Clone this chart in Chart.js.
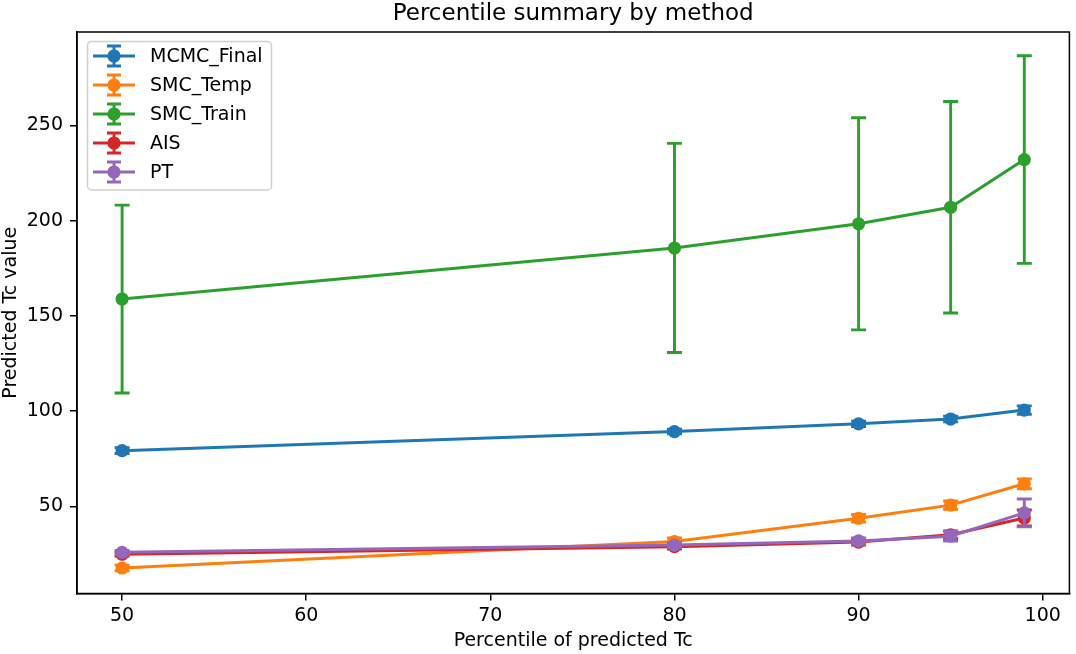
<!DOCTYPE html>
<html>
<head>
<meta charset="utf-8">
<script src="https://cdn.jsdelivr.net/npm/chart.js@4.4.1/dist/chart.umd.min.js"></script>
<style>
  html, body { margin: 0; padding: 0; background: #fff; }
  #wrap { width: 1076px; height: 654px; }
</style>
</head>
<body>
<div id="wrap"><canvas id="chart" width="1076" height="654"></canvas></div>
<script>
// percentiles on the x axis
var percentiles = [50, 80, 90, 95, 99];
var methodNames = ["MCMC_Final", "SMC_Temp", "SMC_Train", "AIS", "PT"];
var methodColors = ["#1f77b4", "#ff7f0e", "#2ca02c", "#d62728", "#9467bd"];

// mean predicted Tc per percentile, and the error (half-width) for each
var mcmcFinal = [79.2, 89.2, 93.3, 95.8, 100.5];
var mcmcFinalErr = [1.5, 1.2, 1.4, 1.5, 2.2];
var smcTemp = [17.6, 31.5, 43.7, 50.6, 61.8];
var smcTempErr = [1.5, 1.8, 2.0, 2.2, 2.6];
var smcTrain = [158.8, 185.6, 198.3, 207.0, 232.0];
var smcTrainErr = [49.3, 54.9, 55.7, 55.5, 54.5];
var ais = [24.8, 28.8, 31.2, 35.0, 43.8];
var aisErr = [1.0, 1.2, 1.5, 2.0, 4.2];
var pt = [25.8, 29.6, 31.8, 34.3, 46.5];
var ptErr = [1.0, 1.3, 1.6, 2.6, 7.3];

var xTicks = [50, 60, 70, 80, 90, 100];
var yTicks = [50, 100, 150, 200, 250];

var allMeans = [mcmcFinal, smcTemp, smcTrain, ais, pt];
var allErrs = [mcmcFinalErr, smcTempErr, smcTrainErr, aisErr, ptErr];

var FONT = "'DejaVu Sans', sans-serif";

var datasets = [];
for (var i = 0; i < methodNames.length; i++) {
  var pts = [];
  for (var j = 0; j < percentiles.length; j++) {
    pts.push({ x: percentiles[j], y: allMeans[i][j] });
  }
  datasets.push({
    label: methodNames[i],
    data: pts,
    errors: allErrs[i],
    borderColor: methodColors[i],
    backgroundColor: methodColors[i],
    borderWidth: 3,
    pointRadius: 6.6,
    pointBorderWidth: 0,
    pointBackgroundColor: methodColors[i],
    tension: 0,
    order: methodNames.length - 1 - i // later series on top
  });
}

// error bars, drawn just before each series so stacking matches
var errorBars = {
  id: "errorBars",
  beforeDatasetDraw: function (chart, args) {
    var ds = chart.data.datasets[args.index];
    var xs = chart.scales.x, ys = chart.scales.y;
    var ctx = chart.ctx;
    ctx.save();
    ctx.strokeStyle = ds.borderColor;
    ctx.lineWidth = 2.9;
    for (var j = 0; j < ds.data.length; j++) {
      var px = xs.getPixelForValue(ds.data[j].x);
      var top = ys.getPixelForValue(ds.data[j].y + ds.errors[j]);
      var bot = ys.getPixelForValue(ds.data[j].y - ds.errors[j]);
      ctx.beginPath();
      ctx.moveTo(px, top); ctx.lineTo(px, bot);
      ctx.moveTo(px - 7.5, top); ctx.lineTo(px + 7.5, top);
      ctx.moveTo(px - 7.5, bot); ctx.lineTo(px + 7.5, bot);
      ctx.stroke();
    }
    ctx.restore();
  }
};

// frame, title and legend like the original figure
var decorations = {
  id: "decorations",
  afterDraw: function (chart) {
    var ctx = chart.ctx, a = chart.chartArea;
    ctx.save();
    ctx.strokeStyle = "#000";
    ctx.lineWidth = 1.5;
    ctx.strokeRect(a.left, a.top, a.right - a.left, a.bottom - a.top);

    ctx.fillStyle = "#000";
    ctx.font = "23px " + FONT;
    ctx.textAlign = "center";
    ctx.textBaseline = "middle";
    ctx.fillText("Percentile summary by method", (a.left + a.right) / 2, 14);

    // legend
    var bx = 87.5, by = 41.5, bw = 184, bh = 148.5;
    ctx.beginPath();
    ctx.roundRect(bx, by, bw, bh, 4);
    ctx.fillStyle = "rgba(255,255,255,0.8)";
    ctx.fill();
    ctx.strokeStyle = "#d0d0d0";
    ctx.lineWidth = 1.5;
    ctx.stroke();

    ctx.font = "19px " + FONT;
    ctx.textAlign = "left";
    for (var i = 0; i < methodNames.length; i++) {
      var y = 56 + i * 29;
      var c = methodColors[i];
      ctx.strokeStyle = c;
      ctx.lineWidth = 2.9;
      ctx.beginPath();
      ctx.moveTo(93, y); ctx.lineTo(135, y);
      ctx.moveTo(114, y - 10); ctx.lineTo(114, y + 10);
      ctx.moveTo(107, y - 10); ctx.lineTo(121, y - 10);
      ctx.moveTo(107, y + 10); ctx.lineTo(121, y + 10);
      ctx.stroke();
      ctx.fillStyle = c;
      ctx.beginPath();
      ctx.arc(114, y, 6.6, 0, Math.PI * 2);
      ctx.fill();
      ctx.fillStyle = "#000";
      ctx.fillText(methodNames[i], 150, y + 1);
    }
    ctx.restore();
  }
};

var ctx = document.getElementById("chart");
var chart = new Chart(ctx, {
  type: "line",
  data: { datasets: datasets },
  options: {
    responsive: false,
    animation: false,
    devicePixelRatio: 1,
    layout: { padding: { top: 32, right: 4, left: 0, bottom: 0 } },
    plugins: {
      legend: { display: false },
      tooltip: { enabled: false },
      title: { display: false }
    },
    scales: {
      x: {
        type: "linear",
        min: 47.55,
        max: 101.45,
        afterFit: function (s) { s.height = 60.5; },
        afterBuildTicks: function (s) {
          s.ticks = xTicks.map(function (v) { return { value: v }; });
        },
        ticks: { color: "#000", font: { family: FONT, size: 19 }, padding: 4, maxRotation: 0 },
        grid: { drawOnChartArea: false, drawTicks: true, tickLength: 7, color: "#000", lineWidth: 1.5 },
        border: { display: true, color: "#000", width: 1.5 },
        title: {
          display: true,
          text: "Percentile of predicted Tc",
          color: "#000",
          font: { family: FONT, size: 19 },
          padding: { top: 0, bottom: 2 }
        }
      },
      y: {
        type: "linear",
        min: 4.2,
        max: 299,
        afterFit: function (s) { s.width = 77; },
        afterBuildTicks: function (s) {
          s.ticks = yTicks.map(function (v) { return { value: v }; });
        },
        ticks: { color: "#000", font: { family: FONT, size: 19 }, padding: 7 },
        grid: { drawOnChartArea: false, drawTicks: true, tickLength: 7, color: "#000", lineWidth: 1.5 },
        border: { display: true, color: "#000", width: 1.5 },
        title: {
          display: true,
          text: "Predicted Tc value",
          color: "#000",
          font: { family: FONT, size: 19 },
          padding: { top: 0, bottom: 0 }
        }
      }
    }
  },
  plugins: [errorBars, decorations]
});
</script>
</body>
</html>
